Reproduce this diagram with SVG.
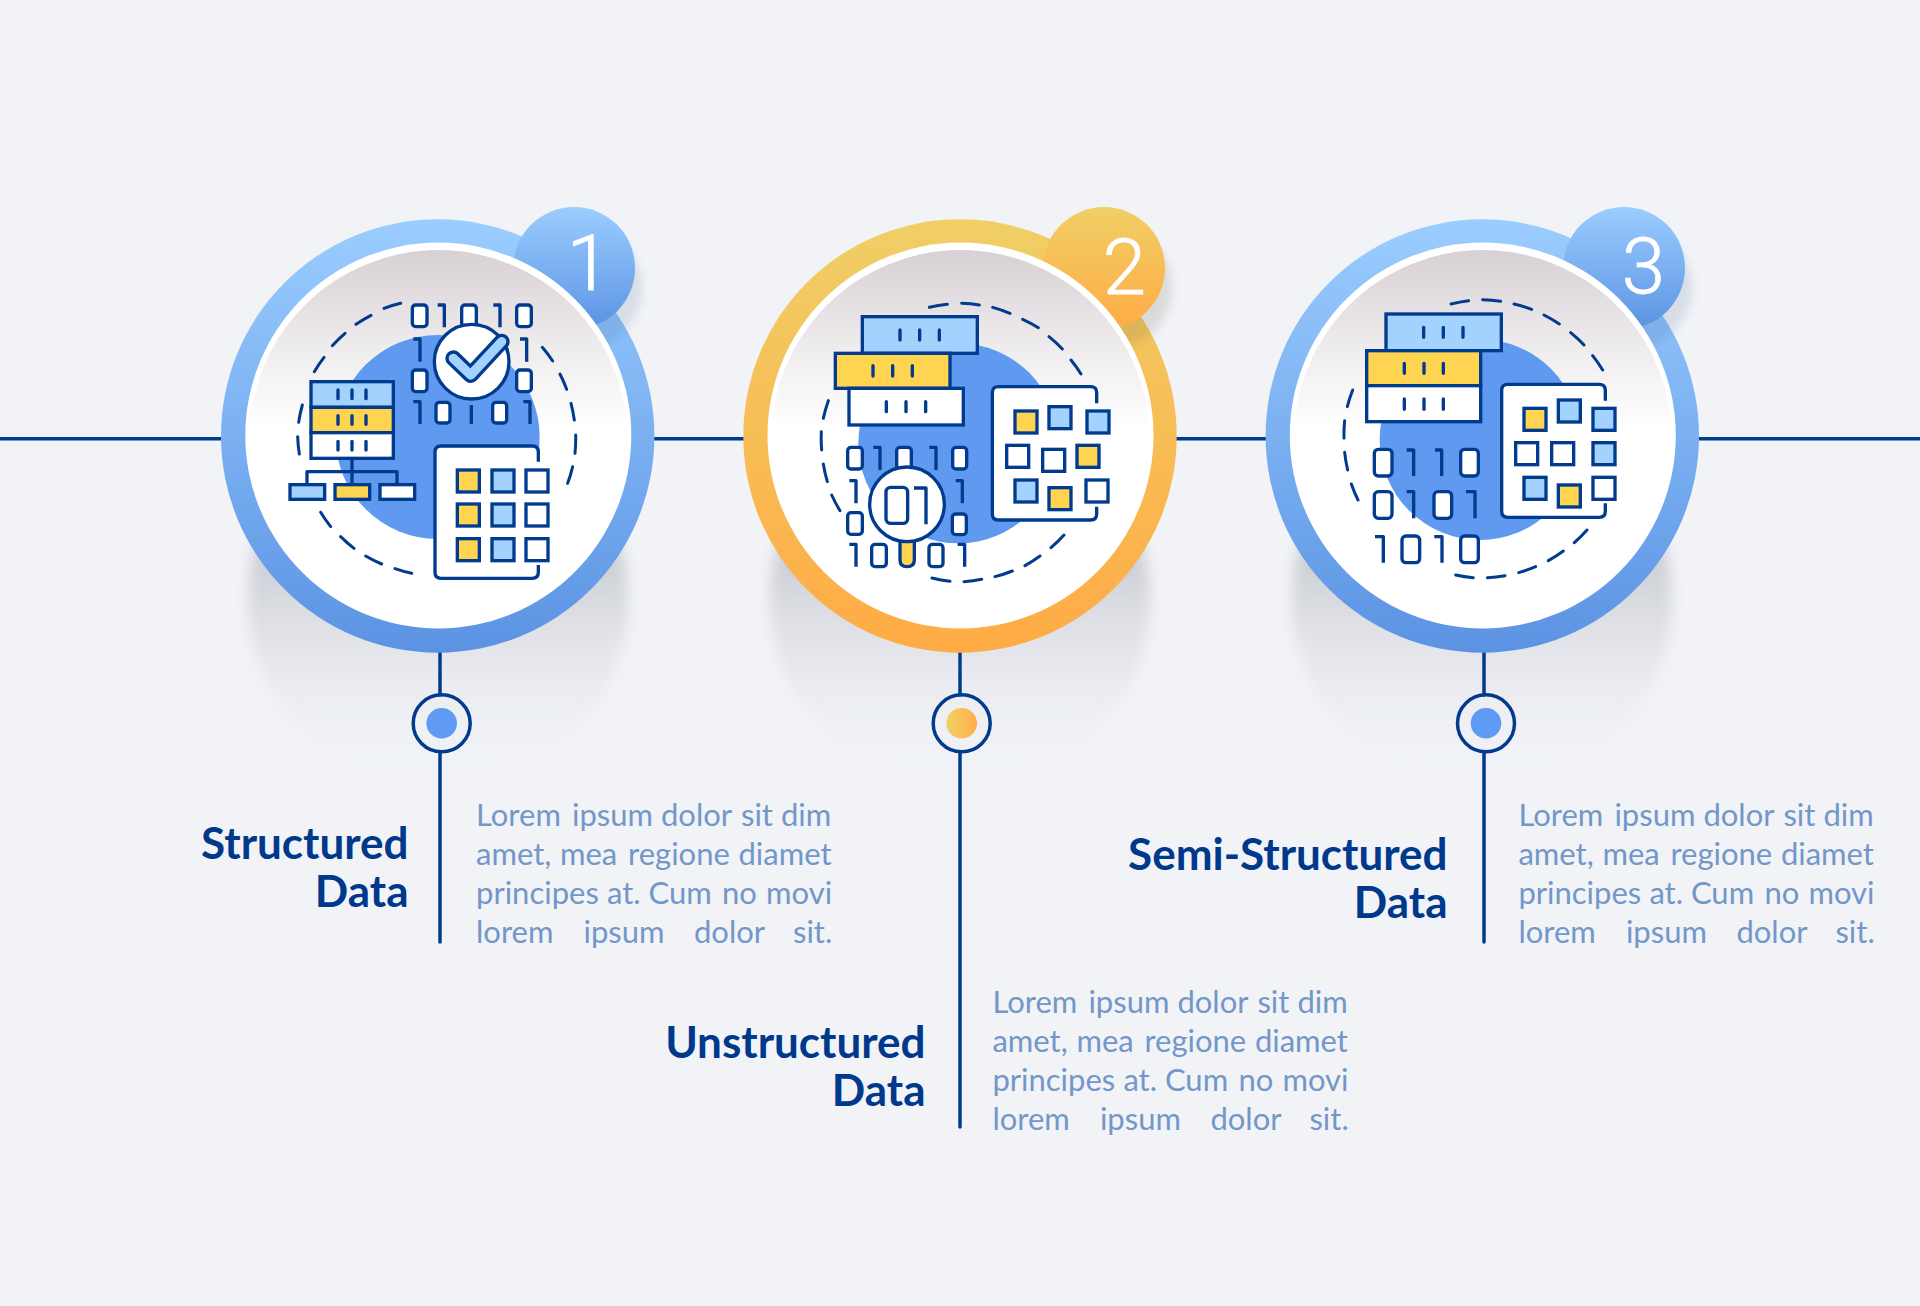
<svg xmlns="http://www.w3.org/2000/svg" width="1920" height="1306" viewBox="0 0 1920 1306">
<style>
.s{stroke:#003b8e;stroke-width:10;fill:none;stroke-linejoin:round}
.f{stroke:#003b8e;stroke-width:10;stroke-linejoin:miter}
.w{fill:#fff}.b{fill:#a3d2ff}.y{fill:#ffd450}
.t{stroke:#003b8e;stroke-width:10;fill:none;stroke-linecap:round}
.d{stroke:#003b8e;stroke-width:9;fill:none;stroke-linecap:round}
.disc{fill:#5f9af0}
.conn{stroke:#003b8e;stroke-width:3.5;fill:none}
.title{font-family:Lato,"Liberation Sans",sans-serif;font-weight:700;font-size:44px;fill:#00388c;text-anchor:end}
.body{font-family:Lato,"Liberation Sans",sans-serif;font-size:31px;fill:#7297c8}
.num{font-family:Roboto,"Liberation Sans",sans-serif;font-weight:300;font-size:78px;fill:#fff;stroke:#fff;stroke-width:.8;text-anchor:end}
</style>
<defs>
<linearGradient id="gb" x1="0" y1="0" x2="0" y2="1"><stop offset="0" stop-color="#9bcdff"/><stop offset="1" stop-color="#5b93e3"/></linearGradient>
<linearGradient id="go" x1="0" y1="0" x2="0" y2="1"><stop offset="0" stop-color="#f0cf66"/><stop offset="1" stop-color="#ffab45"/></linearGradient>
<linearGradient id="gi" x1="0" y1="0" x2="0" y2="1"><stop offset="0" stop-color="#d8d0d4"/><stop offset=".25" stop-color="#eeebed"/><stop offset=".47" stop-color="#fff"/></linearGradient>
<linearGradient id="gs" x1="0" y1="0" x2="0" y2="1"><stop offset="0" stop-color="#c0c3cb"/><stop offset=".4" stop-color="#cdcfd6"/><stop offset="1" stop-color="#f1f3f7" stop-opacity="0"/></linearGradient>
<linearGradient id="gd" x1="0" y1="0" x2="1" y2="0"><stop offset="0" stop-color="#f3d060"/><stop offset="1" stop-color="#fdb04a"/></linearGradient>
<filter id="blur" x="-20%" y="-20%" width="140%" height="140%"><feGaussianBlur stdDeviation="7"/></filter>
<filter id="blur2" x="-30%" y="-30%" width="160%" height="160%"><feGaussianBlur stdDeviation="5"/></filter>
</defs>
<rect width="1920" height="1306" fill="#f1f3f7"/>

<g id="shadows">
<circle cx="438" cy="600" r="190" fill="url(#gs)" filter="url(#blur)"/>
<circle cx="960" cy="600" r="190" fill="url(#gs)" filter="url(#blur)"/>
<circle cx="1482" cy="600" r="190" fill="url(#gs)" filter="url(#blur)"/>
</g>

<g id="connectors" class="conn">
<path d="M0 438.7H222M653 438.7H744M1176 438.7H1266M1698 438.7H1920"/>
<path d="M440 650V695M440 752V942" stroke-linecap="round"/>
<path d="M960 650V695M960 752V1127" stroke-linecap="round"/>
<path d="M1484 650V695M1484 752V942" stroke-linecap="round"/>
</g>

<g id="node-1">
<circle cx="437.7" cy="436" r="216.7" fill="url(#gb)"/>
<circle cx="582" cy="288" r="60" fill="#3d5d8c" opacity=".14" filter="url(#blur2)"/>
<circle cx="574" cy="268" r="61" fill="url(#gb)"/>
<circle cx="438.3" cy="435.5" r="193" fill="#fff"/>
<circle cx="438.3" cy="439" r="189" fill="url(#gi)"/>
<text class="num" x="610" y="290">1</text>
<g transform="translate(210 190) scale(.33333)">
<circle class="disc" cx="683" cy="741" r="306"/>
<g class="d">
<path d="M572 340A417 417 0 0 0 522 355M483 376A417 417 0 0 0 438 403M405 430A417 417 0 0 0 367 467M342 502A417 417 0 0 0 313 545M277 645A417 417 0 0 0 266 697M263 740A417 417 0 0 0 268 792M332 967A417 417 0 0 0 362 1010M392 1040A417 417 0 0 0 432 1075M467 1098A417 417 0 0 0 515 1122M555 1136A417 417 0 0 0 605 1150M1073 880A417 417 0 0 0 1088 830M1095 790A417 417 0 0 0 1097 735M1093 690A417 417 0 0 0 1083 640M1070 598A417 417 0 0 0 1050 552M1028 513A417 417 0 0 0 997 472"/>
</g>
<rect class="f w" x="607" y="345" width="44" height="65" rx="10"/>
<rect class="f w" x="755" y="345" width="44" height="65" rx="10"/>
<rect class="f w" x="920" y="345" width="44" height="65" rx="10"/>
<rect class="f w" x="607" y="540" width="44" height="65" rx="10"/>
<rect class="f w" x="920" y="540" width="44" height="65" rx="10"/>
<rect class="f w" x="678" y="637" width="42" height="62" rx="10"/>
<rect class="f w" x="848" y="637" width="42" height="62" rx="10"/>
<path class="s" d="M683 345H703V412M850 345H870V412M610 447H630V515M930 447H950V515M610 635H630V702M784 645V702M940 635H960V702"/>
<circle class="f w" cx="785" cy="515" r="112"/>
<path d="M730 505L782 555L875 455" fill="none" stroke="#003b8e" stroke-width="48" stroke-linecap="round" stroke-linejoin="round"/>
<path d="M730 505L782 555L875 455" fill="none" stroke="#a3d2ff" stroke-width="28" stroke-linecap="round" stroke-linejoin="round"/>
<rect class="f b" x="303" y="575" width="247" height="77"/>
<rect class="f y" x="303" y="652" width="247" height="76"/>
<rect class="f w" x="303" y="728" width="247" height="77"/>
<path class="t" d="M384 600V626M426 600V626M468 600V626M384 677V703M426 677V703M468 677V703M384 754V780M426 754V780M468 754V780"/>
<path class="s" d="M426 805V882M291 882V845H561V882"/>
<rect class="f b" x="240" y="884" width="104" height="44"/>
<rect class="f y" x="375" y="884" width="104" height="44"/>
<rect class="f w" x="510" y="884" width="104" height="44"/>
<rect class="w" x="675" y="768" width="310" height="397" rx="18"/>
<path class="s" d="M985 815V786Q985 768 967 768H693Q675 768 675 786V1147Q675 1165 693 1165H967Q985 1165 985 1147V1125"/>
<rect class="f y" x="742" y="840" width="66" height="66"/><rect class="f b" x="846" y="840" width="66" height="66"/><rect class="f w" x="948" y="840" width="66" height="66"/>
<rect class="f y" x="742" y="942" width="66" height="66"/><rect class="f b" x="846" y="942" width="66" height="66"/><rect class="f w" x="948" y="942" width="66" height="66"/>
<rect class="f y" x="742" y="1046" width="66" height="66"/><rect class="f b" x="846" y="1046" width="66" height="66"/><rect class="f w" x="948" y="1046" width="66" height="66"/>
</g>
</g>

<g id="node-2">
<circle cx="960" cy="436" r="216.7" fill="url(#go)"/>
<circle cx="1112" cy="288" r="60" fill="#6b5c3a" opacity=".16" filter="url(#blur2)"/>
<circle cx="1104" cy="268" r="61" fill="url(#go)"/>
<circle cx="960.5" cy="435.5" r="193" fill="#fff"/>
<circle cx="960.5" cy="439" r="189" fill="url(#gi)"/>
<text class="num" x="1146" y="294">2</text>
<g transform="translate(730 190) scale(.33333)">
<circle class="disc" cx="685" cy="760" r="300"/>
<g class="d">
<path d="M598 352A417 417 0 0 1 652 343M695 340A417 417 0 0 1 748 345M788 352A417 417 0 0 1 840 370M878 388A417 417 0 0 1 925 413M957 440A417 417 0 0 1 997 477M1023 510A417 417 0 0 1 1053 552M295 632A417 417 0 0 0 280 685M274 725A417 417 0 0 0 275 780M280 822A417 417 0 0 0 292 875M305 915A417 417 0 0 0 330 962M1002 1035A417 417 0 0 1 963 1073M930 1098A417 417 0 0 1 885 1127M847 1143A417 417 0 0 1 795 1160M755 1168A417 417 0 0 1 702 1175M660 1174A417 417 0 0 1 606 1164"/>
</g>
<rect class="f b" x="397" y="380" width="345" height="110"/>
<rect class="f y" x="316" y="490" width="344" height="105"/>
<rect class="f w" x="357" y="595" width="343" height="110"/>
<path class="t" d="M510 420V450M569 420V450M628 420V450M429 527V558M488 527V558M547 527V558M469 635V665M528 635V665M587 635V665"/>
<rect class="w" x="787" y="590" width="313" height="400" rx="18"/>
<path class="s" d="M1100 640V608Q1100 590 1082 590H805Q787 590 787 608V972Q787 990 805 990H1082Q1100 990 1100 972V950"/>
<rect class="f y" x="855" y="663" width="66" height="66"/><rect class="f b" x="957" y="650" width="66" height="66"/><rect class="f b" x="1071" y="663" width="66" height="66"/>
<rect class="f w" x="830" y="766" width="66" height="66"/><rect class="f w" x="938" y="778" width="66" height="66"/><rect class="f y" x="1041" y="766" width="66" height="66"/>
<rect class="f b" x="855" y="870" width="66" height="66"/><rect class="f y" x="957" y="893" width="66" height="66"/><rect class="f w" x="1068" y="870" width="66" height="66"/>
<rect class="f w" x="353" y="772" width="44" height="65" rx="10"/>
<rect class="f w" x="500" y="772" width="44" height="65" rx="10"/>
<rect class="f w" x="668" y="772" width="42" height="65" rx="10"/>
<rect class="f w" x="353" y="968" width="44" height="65" rx="10"/>
<rect class="f w" x="667" y="972" width="42" height="62" rx="10"/>
<rect class="f w" x="425" y="1063" width="44" height="67" rx="10"/>
<rect class="f w" x="597" y="1063" width="42" height="67" rx="10"/>
<path class="s" d="M430 772H450V840M598 772H618V840M358 872H378V940M677 872H697V940M358 1063H378V1130M683 1063H704V1130"/>
<path class="f y" d="M510 1050V1110Q510 1130 531 1130Q553 1130 553 1110V1050Z"/>
<circle class="f w" cx="531" cy="943" r="112"/>
<rect class="s" x="468" y="892" width="65" height="108" rx="14"/>
<path class="s" d="M552 894H588V1003"/>
</g>
</g>

<g id="node-3">
<circle cx="1482.3" cy="436" r="216.7" fill="url(#gb)"/>
<circle cx="1632" cy="288" r="60" fill="#3d5d8c" opacity=".14" filter="url(#blur2)"/>
<circle cx="1624" cy="268" r="61" fill="url(#gb)"/>
<circle cx="1482.8" cy="435.5" r="193" fill="#fff"/>
<circle cx="1482.8" cy="439" r="189" fill="url(#gi)"/>
<text class="num" x="1665" y="293">3</text>
<g transform="translate(1250 190) scale(.33333)">
<circle class="disc" cx="690" cy="749" r="301"/>
<g class="d">
<path d="M603 342A417 417 0 0 1 656 332M698 329A417 417 0 0 1 752 334M792 342A417 417 0 0 1 845 358M882 375A417 417 0 0 1 928 402M962 428A417 417 0 0 1 1002 465M1028 497A417 417 0 0 1 1058 540M308 600A417 417 0 0 0 292 650M284 692A417 417 0 0 0 282 745M284 787A417 417 0 0 0 293 840M304 882A417 417 0 0 0 324 930M1011 1020A417 417 0 0 1 973 1058M940 1083A417 417 0 0 1 895 1112M857 1130A417 417 0 0 1 806 1148M765 1157A417 417 0 0 1 712 1163M670 1163A417 417 0 0 1 617 1155"/>
</g>
<rect class="f b" x="408" y="372" width="346" height="110"/>
<rect class="f y" x="350" y="482" width="342" height="105"/>
<rect class="f w" x="350" y="587" width="342" height="108"/>
<path class="t" d="M521 412V442M580 412V442M639 412V442M463 520V550M522 520V550M580 520V550M463 627V658M522 627V658M580 627V658"/>
<rect class="w" x="755" y="583" width="311" height="399" rx="18"/>
<path class="s" d="M1066 632V601Q1066 583 1048 583H773Q755 583 755 601V964Q755 982 773 982H1048Q1066 982 1066 964V940"/>
<rect class="f y" x="822" y="655" width="66" height="66"/><rect class="f b" x="925" y="630" width="66" height="66"/><rect class="f b" x="1029" y="655" width="66" height="66"/>
<rect class="f w" x="797" y="758" width="66" height="66"/><rect class="f w" x="905" y="758" width="66" height="66"/><rect class="f b" x="1029" y="758" width="66" height="66"/>
<rect class="f b" x="822" y="862" width="66" height="66"/><rect class="f y" x="925" y="885" width="66" height="66"/><rect class="f w" x="1029" y="862" width="66" height="66"/>
<rect class="f w" x="373" y="778" width="53" height="80" rx="12"/>
<rect class="f w" x="632" y="778" width="53" height="80" rx="12"/>
<rect class="f w" x="373" y="905" width="53" height="80" rx="12"/>
<rect class="f w" x="552" y="905" width="53" height="80" rx="12"/>
<rect class="f w" x="456" y="1038" width="53" height="80" rx="12"/>
<rect class="f w" x="632" y="1038" width="53" height="80" rx="12"/>
<path class="s" d="M470 780H491V858M555 780H575V858M470 905H491V985M648 905H675V985M375 1040H400V1118M553 1040H576V1118"/>
</g>
</g>

<g id="step-1">
<circle cx="441.7" cy="723.3" r="28.5" fill="none" stroke="#003b8e" stroke-width="3.5"/>
<circle cx="441.7" cy="723.3" r="15.3" fill="#5f9bf4"/>
<text class="title" x="408.5" y="859">Structured</text>
<text class="title" x="408.5" y="906.5">Data</text>
<g class="body">
<text y="825.5"><tspan x="476">Lorem</tspan> <tspan x="572">ipsum</tspan> <tspan x="661">dolor</tspan> <tspan x="741">sit</tspan> <tspan x="781">dim</tspan></text>
<text y="864.5"><tspan x="476">amet,</tspan> <tspan x="560">mea</tspan> <tspan x="628">regione</tspan> <tspan x="738.5">diamet</tspan></text>
<text y="903.5"><tspan x="476">principes</tspan> <tspan x="607">at.</tspan> <tspan x="648.5">Cum</tspan> <tspan x="722">no</tspan> <tspan x="766">movi</tspan></text>
<text y="942.5"><tspan x="476">lorem</tspan> <tspan x="583.5">ipsum</tspan> <tspan x="694">dolor</tspan> <tspan x="793">sit.</tspan></text>
</g>
</g>

<g id="step-2">
<circle cx="961.7" cy="723.3" r="28.5" fill="none" stroke="#003b8e" stroke-width="3.5"/>
<circle cx="961.7" cy="723.3" r="15.3" fill="url(#gd)"/>
<text class="title" x="925.5" y="1058">Unstructured</text>
<text class="title" x="925.5" y="1105.5">Data</text>
<g class="body" transform="translate(516.4 187.5)">
<text y="825.5"><tspan x="476">Lorem</tspan> <tspan x="572">ipsum</tspan> <tspan x="661">dolor</tspan> <tspan x="741">sit</tspan> <tspan x="781">dim</tspan></text>
<text y="864.5"><tspan x="476">amet,</tspan> <tspan x="560">mea</tspan> <tspan x="628">regione</tspan> <tspan x="738.5">diamet</tspan></text>
<text y="903.5"><tspan x="476">principes</tspan> <tspan x="607">at.</tspan> <tspan x="648.5">Cum</tspan> <tspan x="722">no</tspan> <tspan x="766">movi</tspan></text>
<text y="942.5"><tspan x="476">lorem</tspan> <tspan x="583.5">ipsum</tspan> <tspan x="694">dolor</tspan> <tspan x="793">sit.</tspan></text>
</g>
</g>

<g id="step-3">
<circle cx="1486" cy="723.3" r="28.5" fill="none" stroke="#003b8e" stroke-width="3.5"/>
<circle cx="1486" cy="723.3" r="15.3" fill="#5f9bf4"/>
<text class="title" x="1447.5" y="870">Semi-Structured</text>
<text class="title" x="1447.5" y="917.5">Data</text>
<g class="body" transform="translate(1042.4 0)">
<text y="825.5"><tspan x="476">Lorem</tspan> <tspan x="572">ipsum</tspan> <tspan x="661">dolor</tspan> <tspan x="741">sit</tspan> <tspan x="781">dim</tspan></text>
<text y="864.5"><tspan x="476">amet,</tspan> <tspan x="560">mea</tspan> <tspan x="628">regione</tspan> <tspan x="738.5">diamet</tspan></text>
<text y="903.5"><tspan x="476">principes</tspan> <tspan x="607">at.</tspan> <tspan x="648.5">Cum</tspan> <tspan x="722">no</tspan> <tspan x="766">movi</tspan></text>
<text y="942.5"><tspan x="476">lorem</tspan> <tspan x="583.5">ipsum</tspan> <tspan x="694">dolor</tspan> <tspan x="793">sit.</tspan></text>
</g>
</g>
</svg>
